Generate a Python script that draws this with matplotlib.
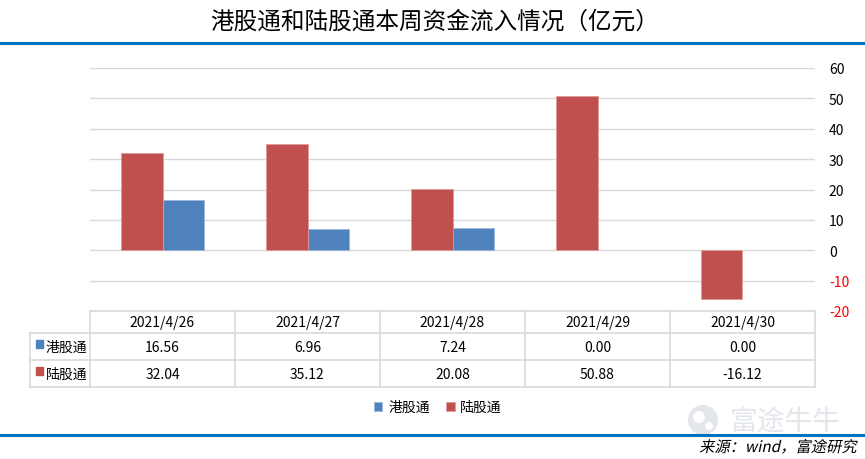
import numpy as np
import matplotlib
matplotlib.use("Agg")
import matplotlib.pyplot as plt
from matplotlib.patches import Rectangle, Circle, PathPatch
from matplotlib.textpath import TextPath
from matplotlib.font_manager import FontProperties
from matplotlib.transforms import Affine2D

plt.rcParams['font.family'] = ['Noto Sans CJK SC', 'DejaVu Sans']
plt.rcParams['axes.unicode_minus'] = False

dates = ["2021/4/26", "2021/4/27", "2021/4/28", "2021/4/29", "2021/4/30"]
hk_flow = [16.56, 6.96, 7.24, 0.00, 0.00]      # 港股通
sh_flow = [32.04, 35.12, 20.08, 50.88, -16.12]  # 陆股通
series_names = ["港股通", "陆股通"]
yticks = [-20, -10, 0, 10, 20, 30, 40, 50, 60]

blue = "#4F81BD"
red = "#C0504D"
grid_c = "#D9D9D9"
line_blue = "#0070C0"

W, H = 865, 460
fig = plt.figure(figsize=(W / 100, H / 100), dpi=100)

# plot area in pixels
left, right, top, bottom = 90, 815, 69, 312
ax = fig.add_axes([left / W, 1 - bottom / H, (right - left) / W, (bottom - top) / H])

x = np.arange(len(dates))
bw = 0.287
b_hk = ax.bar(x + bw / 2, hk_flow, bw, color=blue, edgecolor="#9DB5D8",
              linewidth=[0.6 if v else 0 for v in hk_flow], zorder=3)
b_sh = ax.bar(x - bw / 2, sh_flow, bw, color=red, edgecolor="#DE9C9A",
              linewidth=[0.6 if v else 0 for v in sh_flow], zorder=3)

ax.set_xlim(-0.5, len(dates) - 0.5)
ax.set_ylim(-20, 60)
ax.set_yticks(yticks)
ax.yaxis.tick_right()
ax.tick_params(axis="y", length=0, pad=10, labelsize=10)
ax.set_xticks([])
for t, v in zip(ax.get_yticklabels(), yticks):
    t.set_color("#FF0000" if v < 0 else "black")
for s in ax.spines.values():
    s.set_visible(False)
ax.grid(axis="y", color=grid_c, linewidth=1, zorder=0)

# overlay in pixel coords for title, table, rules
ov = fig.add_axes([0, 0, 1, 1], facecolor="none")
ov.set_xlim(0, W)
ov.set_ylim(H, 0)
ov.axis("off")

ov.text(W / 2 + 2, 22, "港股通和陆股通本周资金流入情况（亿元）", ha="center", va="center",
        fontsize=17, color="black")
ov.plot([0, W], [44, 44], color=line_blue, lw=2.2)
ov.plot([0, W], [436, 436], color=line_blue, lw=2.2)

# data table
col_w = (right - left) / len(dates)
rows = [312, 334.3, 361.3, 388.3]
head_l = 30
tcol = grid_c
ov.plot([left, right], [rows[0]] * 2, color=tcol, lw=1.2)
for r in rows[1:]:
    ov.plot([head_l, right], [r, r], color=tcol, lw=1.2)
for i in range(len(dates) + 1):
    ov.plot([left + i * col_w] * 2, [rows[0], rows[-1]], color=tcol, lw=1.2)
ov.plot([head_l] * 2, [rows[1], rows[-1]], color=tcol, lw=1.2)

for i, d in enumerate(dates):
    cx = left + (i + 0.5) * col_w
    ov.text(cx, (rows[0] + rows[1]) / 2, d, ha="center", va="center", fontsize=10)
    ov.text(cx, (rows[1] + rows[2]) / 2, f"{hk_flow[i]:.2f}", ha="center", va="center", fontsize=10)
    ov.text(cx, (rows[2] + rows[3]) / 2, f"{sh_flow[i]:.2f}", ha="center", va="center", fontsize=10)

for k, (name, c) in enumerate(zip(series_names, [blue, red])):
    cy = (rows[k + 1] + rows[k + 2]) / 2
    ov.add_patch(Rectangle((35.5, cy - 6.5), 7.5, 7.5, color=c))
    ov.text(46, cy, name, ha="left", va="center", fontsize=10)

# legend
fig.legend([b_hk, b_sh], series_names, loc="center", bbox_to_anchor=(438 / W, 1 - 408 / H),
           ncol=2, frameon=False, fontsize=10, handlelength=0.6, handleheight=0.6,
           handletextpad=0.4, columnspacing=1.2)

# watermark
wm = "#E3E6EA"
ov.add_patch(Circle((703, 421), 15, color=wm, lw=0))
ov.add_patch(Circle((699, 418), 6, color="white", lw=0))
ov.add_patch(Circle((709, 427), 4, color="white", lw=0))
ov.text(730, 422, "富途牛牛", ha="left", va="center", fontsize=20, color=wm)

# source, slanted by hand since the CJK font has no italic
src = TextPath((0, 0), "来源：wind，富途研究", size=11 * 100 / 72,
               prop=FontProperties(family="Noto Sans CJK SC"))
ext = src.get_extents()
tr = Affine2D().skew_deg(12, 0).scale(1, -1).translate(858 - ext.x1 - 2, 453)
ov.add_patch(PathPatch(tr.transform_path(src), color="black", lw=0))

fig.savefig("out.png", dpi=100)
